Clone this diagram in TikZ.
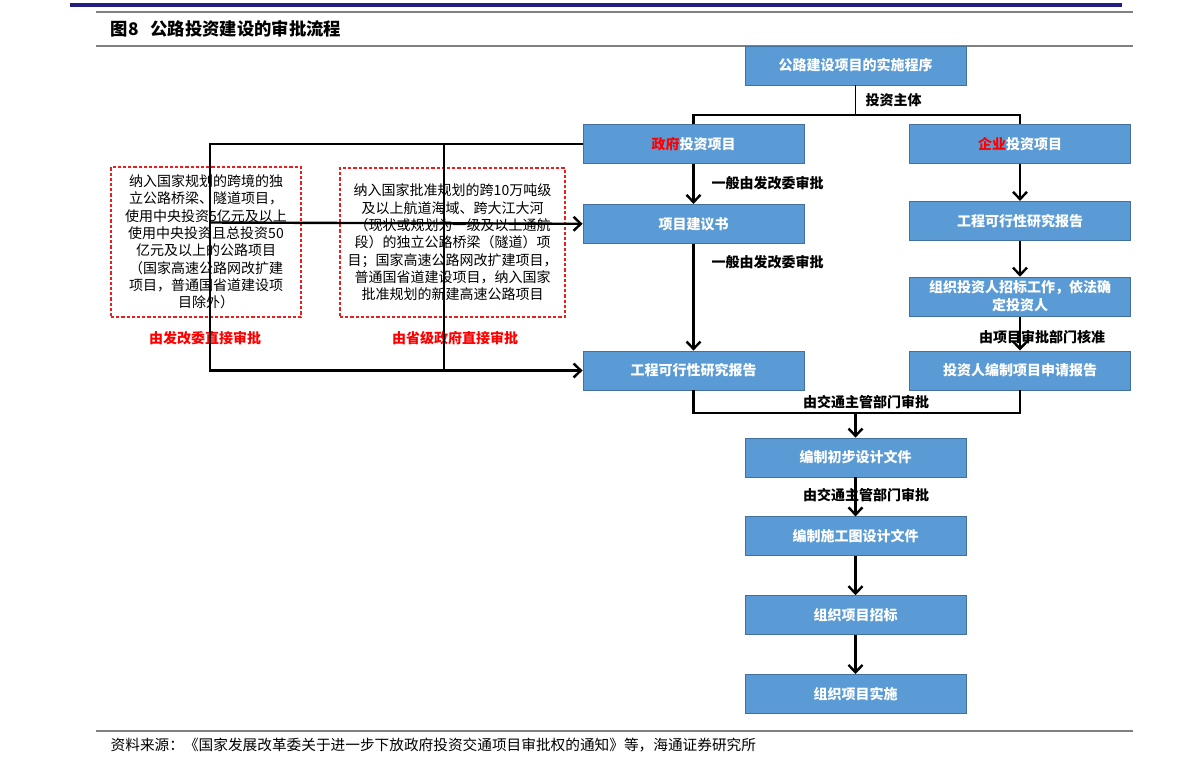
\documentclass[tikz,border=0pt]{standalone}
\usepackage{fontspec}
\setmainfont{Noto Sans CJK SC}
\usepackage{xcolor}
\usetikzlibrary{arrows.meta,positioning}
\definecolor{boxblue}{RGB}{91,155,213}
\definecolor{boxedge}{RGB}{65,113,156}
\definecolor{navy}{RGB}{36,30,128}
\definecolor{rulegray}{RGB}{128,128,128}
\definecolor{notered}{RGB}{235,30,30}

\begin{document}
\begin{tikzpicture}[x=0.75pt,y=-0.75pt,node distance=29.25pt,
    font=\fontsize{10.5}{13}\selectfont,
    box/.style={rectangle,draw=boxedge,line width=0.6pt,fill=boxblue,text=white,
      font=\fontsize{10.5}{13.5}\selectfont\bfseries,minimum width=165.75pt,
      minimum height=29.25pt,inner sep=0pt,align=center},
    note/.style={rectangle,draw=notered,dash pattern=on 2.4pt off 1.5pt,line width=0.9pt,
      align=center,inner sep=0pt},
    tag/.style={font=\fontsize{10.5}{12}\selectfont\bfseries},
    link/.style={line width=1.8pt},
    arr/.style={link,-{Straight Barb[length=5.5pt,width=10.5pt]}}]

  \useasboundingbox (0,0) rectangle (1191,772);

  % page rules, title and source
  \draw[navy,line width=2.4pt] (70,5) -- (1122,5);
  \draw[rulegray,line width=1.2pt] (96,12) -- (1133,12);
  \draw[rulegray,line width=1.2pt] (96,46) -- (1133,46);
  \draw[rulegray,line width=1.5pt] (96,731) -- (1133,731);
  \node[anchor=west,font=\fontsize{13}{15}\selectfont\bfseries] (title) at (106,29) {图8\ \ \ 公路投资建设的审批流程};
  \node[anchor=west,font=\fontsize{11}{13}\selectfont] (source) at (106,745)
    {资料来源：《国家发展改革委关于进一步下放政府投资交通项目审批权的通知》等，海通证券研究所};

  % blue boxes
  \node[box] (top) at (855.5,65.5) {公路建设项目的实施程序};
  \node[box] (gov) at (693.5,144) {{\color{red}政府}投资项目};
  \node[box] (ent) at (1020,144) {{\color{red}企业}投资项目};
  \node[box] (proposal) [below=30pt of gov] {项目建议书};
  \node[box] (fsL) at (693.5,370.5) {工程可行性研究报告};
  \node[box] (fsR) [below=27.75pt of ent] {工程可行性研究报告};
  \node[box] (bid) [below=27pt of fsR] {组织投资人招标工作，依法确\\定投资人};
  \node[box] (apply) [below=25.5pt of bid] {投资人编制项目申请报告};
  \node[box] (prelim) at (855.5,457.5) {编制初步设计文件};
  \node[box] (construct) [below=of prelim] {编制施工图设计文件};
  \node[box] (tender) [below=of construct] {组织项目招标};
  \node[box] (implement) [below=of tender] {组织项目实施};

  % dashed notes
  \node[note,minimum width=142.5pt,minimum height=112.5pt] (ndrc) at (206,242)
    {纳入国家规划的跨境的独\\立公路桥梁、隧道项目，\\使用中央投资5亿元及以上\\使用中央投资且总投资50\\亿元及以上的公路项目\\（国家高速公路网改扩建\\项目，普通国省道建设项\\目除外）};
  \node[note,minimum width=168.75pt,minimum height=111.75pt] (prov) at (452.5,242.5)
    {纳入国家批准规划的跨10万吨级\\及以上航道海域、跨大江大河\\（现状或规划为一级及以上通航\\段）的独立公路桥梁（隧道）项\\目；国家高速公路网改扩建项目，\\普通国省道建设项目，纳入国家\\批准规划的新建高速公路项目};
  \node[tag,text=red] (ndrcTag) at (205,338) {由发改委直接审批};
  \node[tag,text=red] (provTag) at (455,338) {由省级政府直接审批};

  % split and merge points
  \coordinate (split) at (855.5,115);
  \coordinate (merge) at (855.5,413);
  \coordinate (lb) at (210,370.5);
  \coordinate (lm) at (210,222.5);
  \coordinate (mt) at (444,144);
  \coordinate (mb) at (444,370.5);

  \draw[line width=0.8pt] (top) -- (split);
  \draw[link] (gov.north) |- (split) -| (ent.north);
  \draw[arr] (gov) -- (proposal);
  \draw[arr] (proposal) -- (fsL);
  \draw[arr] (ent) -- (fsR);
  \draw[arr] (fsR) -- (bid);
  \draw[arr] (bid) -- (apply);
  \draw[link] (fsL.south) |- (merge) -| (apply.south);
  \draw[arr] (merge) -- (prelim);
  \draw[arr] (prelim) -- (construct);
  \draw[arr] (construct) -- (tender);
  \draw[arr] (tender) -- (implement);

  % direct approval paths
  \draw[arr] (gov.west) -| (lb) -- (fsL.west);
  \draw[link] (mt) -- (mb);
  \draw[arr] (lm) -- (proposal.west);

  % connector labels
  \node[tag,anchor=west] (subject) at (861,100) {投资主体};
  \node[tag,anchor=west] (general1) at (707,183) {一般由发改委审批};
  \node[tag,anchor=west] (general2) at (707,262) {一般由发改委审批};
  \node[tag] (approve) at (1042,337) {由项目审批部门核准};
  \node[tag] (transport1) at (866,402) {由交通主管部门审批};
  \node[tag] (transport2) at (866,495) {由交通主管部门审批};
\end{tikzpicture}
\end{document}
